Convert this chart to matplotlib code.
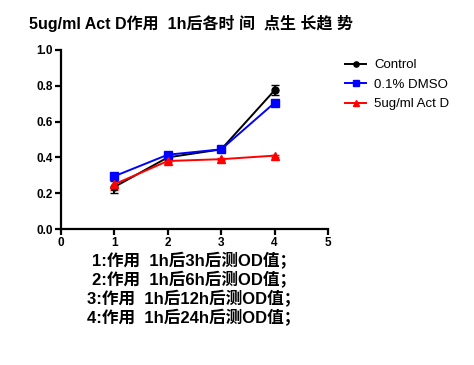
import matplotlib.pyplot as plt
import numpy as np

plt.rcParams['font.family'] = ['Liberation Sans', 'Noto Sans CJK SC', 'DejaVu Sans']

x = [1, 2, 3, 4]
series_names = ['Control', '0.1% DMSO', '5ug/ml Act D']
control = [0.235, 0.40, 0.445, 0.775]
control_err = [0.035, 0.01, 0.008, 0.027]
dmso = [0.295, 0.415, 0.445, 0.705]
dmso_err = [0.015, 0.01, 0.008, 0.01]
actd = [0.25, 0.38, 0.39, 0.41]
actd_err = [0.03, 0.008, 0.006, 0.006]

title = '5ug/ml Act D作用  1h后各时 间  点生 长趋 势'
notes = ['1:作用  1h后3h后测OD值；',
         '2:作用  1h后6h后测OD值；',
         '3:作用  1h后12h后测OD值；',
         '4:作用  1h后24h后测OD值；']

fig = plt.figure(figsize=(4.74, 3.65), dpi=100)
ax = fig.add_axes([61 / 474, 1 - 229 / 365, 267 / 474, 179 / 365])

c1 = ax.errorbar(x, control, yerr=control_err, color='black', marker='o', ms=5,
                 lw=1.4, capsize=3, elinewidth=1.4)
c2 = ax.errorbar(x, dmso, yerr=dmso_err, color='#0000ff', marker='s', ms=5.5,
                 lw=1.4, capsize=3, elinewidth=1.4)
c3 = ax.errorbar(x, actd, yerr=actd_err, color='#ff0000', marker='^', ms=5.5,
                 lw=1.4, capsize=3, elinewidth=1.4)

ax.set_xlim(0, 5)
ax.set_ylim(0, 1.0)
ax.set_xticks([0, 1, 2, 3, 4, 5])
ax.set_yticks([0, 0.2, 0.4, 0.6, 0.8, 1.0])
ax.set_yticklabels(['0.0', '0.2', '0.4', '0.6', '0.8', '1.0'])
ax.spines['top'].set_visible(False)
ax.spines['right'].set_visible(False)
for s in ['left', 'bottom']:
    ax.spines[s].set_linewidth(1.6)
ax.tick_params(width=1.6, length=4, labelsize=8.5, pad=2)
for lab in ax.get_xticklabels() + ax.get_yticklabels():
    lab.set_fontweight('bold')

ax.legend([c1[0], c2[0], c3[0]], series_names, loc='upper left',
          bbox_to_anchor=(1.03, 1.0), frameon=False, fontsize=9.5,
          handlelength=1.6, handletextpad=0.6, borderaxespad=0.3,
          labelspacing=0.55, markerscale=0.75)

fig.text(29 / 474, 1 - 23 / 365, title, fontsize=11.5, fontweight='bold',
         ha='left', va='center')
for i, t in enumerate(notes):
    fig.text(194 / 474, 1 - (261 + i * 19) / 365, t, fontsize=12,
             fontweight='bold', ha='center', va='center')

fig.savefig('out.png', dpi=100)
